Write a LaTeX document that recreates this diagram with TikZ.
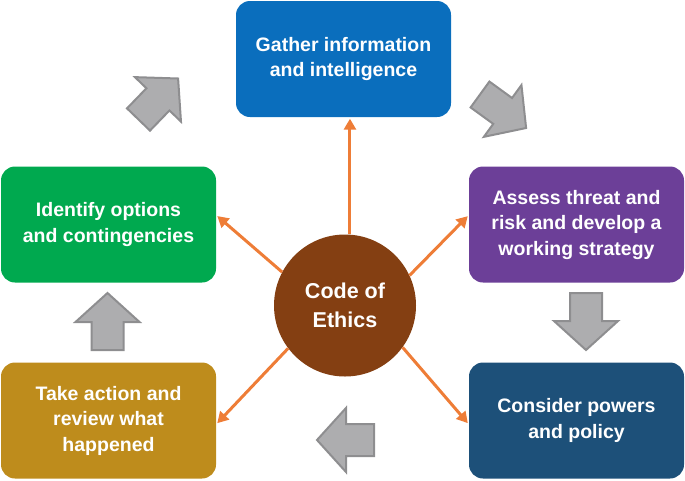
\documentclass[tikz,border=0pt]{standalone}
\usepackage{fontspec}
\setmainfont{Liberation Sans}
\usetikzlibrary{arrows.meta,calc}
\definecolor{cblue}{HTML}{0A6EBD}
\definecolor{cpurple}{HTML}{6C3F98}
\definecolor{cdblue}{HTML}{1D5079}
\definecolor{cgold}{HTML}{BE8C1C}
\definecolor{cgreen}{HTML}{00A94F}
\definecolor{cbrown}{HTML}{843F12}
\definecolor{corange}{HTML}{EE7D37}
\definecolor{gfill}{HTML}{ADADAF}
\definecolor{gline}{HTML}{8E8E90}
\tikzset{
  stepbox/.style={rounded corners=14pt, minimum width=215pt, minimum height=116pt,
    inner sep=0pt, text=white, align=center,
    font=\bfseries\fontsize{19.5}{25.5}\selectfont},
  hub/.style={circle, fill=cbrown, minimum size=142pt, inner sep=0pt, text=white,
    align=center, font=\bfseries\fontsize{21.5}{29}\selectfont},
  conn/.style={corange, line width=3pt, shorten >=1.5pt, -{Triangle[length=11pt,width=12pt]}},
  barrow/.pic={
    \draw[fill=gfill, draw=gline, line width=2pt, line join=miter]
      (0,-16) -- (28,-16) -- (28,-32) -- (57,0) -- (28,32) -- (28,16) -- (0,16) -- cycle;
  }
}
\begin{document}
\begin{tikzpicture}[x=1pt,y=-1pt]
\useasboundingbox (0,0) rectangle (685,480);
\node[stepbox, fill=cblue]   (t) at (343.5,59)  {Gather information\\and intelligence};
\node[stepbox, fill=cpurple] (p) at (576.5,224.5) {Assess threat and\\risk and develop a\\working strategy};
\node[stepbox, fill=cdblue]  (d) at (576.5,420.5) {Consider powers\\and policy};
\node[stepbox, fill=cgold]   (o) at (108.5,420.5) {Take action and\\review what\\happened};
\node[stepbox, fill=cgreen]  (g) at (108.5,224.5) {Identify options\\and contingencies};
\node[hub] (c) at (345,305.5) {Code of\\Ethics};
\draw[conn] (c.86) -- (c.86 |- t.south);
\draw[conn] (c.25.4) -- (p.175.5);
\draw[conn] (c.-36.3) -- (d.182);
\draw[conn] (c.217.4) -- (o.358);
\draw[conn] (c.152.5) -- (g.5);
\pic[rotate=46]  at (138.5,119.5) {barrow};
\pic[rotate=-36] at (480,94.5)    {barrow};
\pic[rotate=-90] at (586,293)     {barrow};
\pic[rotate=180] at (374,440)     {barrow};
\pic[rotate=90]  at (107.5,350)   {barrow};
\end{tikzpicture}
\end{document}
